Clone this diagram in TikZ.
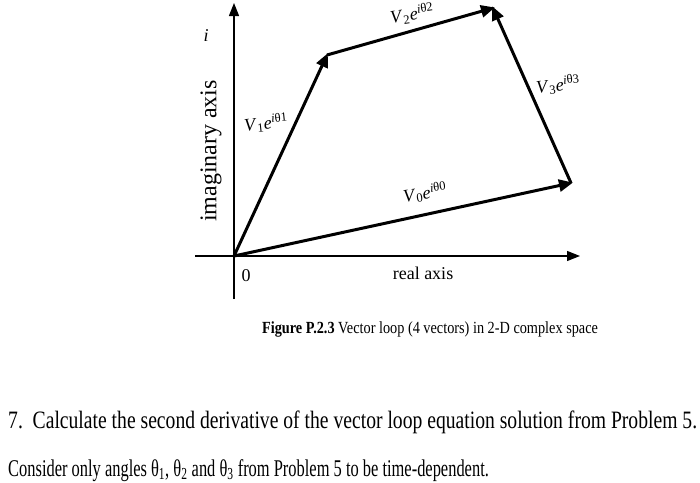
\documentclass[tikz,border=0pt]{standalone}
\usepackage{fontspec}
\setmainfont{Liberation Serif}
\newfontfamily\capfont[FakeStretch=0.84]{Liberation Serif}
\newfontfamily\lineone[FakeStretch=0.785]{Liberation Serif}
\newfontfamily\linetwo[FakeStretch=0.685]{Liberation Serif}
\usetikzlibrary{arrows.meta}
\tikzset{
  axisline/.style={line width=1.3pt,-{Triangle[length=13pt,width=10pt]}},
  vec/.style={line width=3pt,-{Triangle[length=14pt,width=12pt]}, shorten >=-2pt},
  lbl/.style={font=\fontsize{18}{20}\selectfont, inner sep=0pt},
}
\newcommand{\vlab}[2]{\textit{V}\textsubscript{#1}\textit{e}\textsuperscript{\textit{i}θ#2}}
\begin{document}
\begin{tikzpicture}[x=1pt,y=-1pt]
\useasboundingbox (0,0) rectangle (700,482);
\fill[white] (0,0) rectangle (700,482);
% points
\coordinate (O) at (234,256);
\coordinate (xs) at (195,256);
\coordinate (xe) at (580,256);
\coordinate (ys) at (234,299);
\coordinate (ye) at (234,3);
\coordinate (A) at (327,55);
\coordinate (B) at (493,8);
\coordinate (C) at (571,183);
% axes
\draw[axisline] (xs) -- (xe);
\draw[axisline] (ys) -- (ye);
% vectors
\draw[vec] (O) -- (A);
\draw[vec] (A) -- (B);
\draw[vec] (C) -- (B);
\draw[vec] (O) -- (C);
% labels
\node[lbl] (li) at (206,36) {\textit{i}};
\node[lbl, font=\fontsize{24}{26}\selectfont, rotate=90] (lim) at (211,151) {imaginary axis};
\node[lbl] (l0) at (246,276) {0};
\node[lbl] (lre) at (423,273) {real axis};
\node[lbl, rotate=6] (lv1) at (266,123) {\vlab{1}{1}};
\node[lbl, rotate=8] (lv2) at (412,14) {\vlab{2}{2}};
\node[lbl, rotate=6] (lv3) at (558,85) {\vlab{3}{3}};
\node[lbl, rotate=8] (lv0) at (425,193) {\vlab{0}{0}};
% caption
\node[lbl, anchor=base, font=\capfont\fontsize{17}{19}\selectfont] (cap) at (430,333) {\textbf{Figure P.2.3} Vector loop (4 vectors) in 2-D complex space};
% problem text
\node[lbl, anchor=base west, font=\lineone\fontsize{25}{27}\selectfont] (t1) at (8,428) {7.\ \ Calculate the second derivative of the vector loop equation solution from Problem 5.};
\node[lbl, anchor=base west, font=\linetwo\fontsize{24}{26}\selectfont] (t2) at (8,476) {Consider only angles θ\textsubscript{1}, θ\textsubscript{2} and θ\textsubscript{3} from Problem 5 to be time-dependent.};
\end{tikzpicture}
\end{document}
